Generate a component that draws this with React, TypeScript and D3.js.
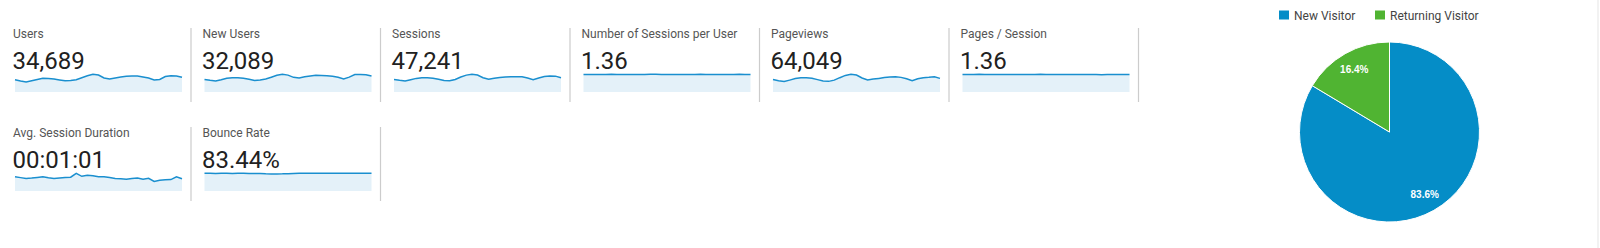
import React, { useEffect } from "react";
import * as d3 from "d3";

const metricLabels = [
  "Users",
  "New Users",
  "Sessions",
  "Number of Sessions per User",
  "Pageviews",
  "Pages / Session",
  "Avg. Session Duration",
  "Bounce Rate",
];
const metricValues = ["34,689", "32,089", "47,241", "1.36", "64,049", "1.36", "00:01:01", "83.44%"];

const usersDaily = [996, 891, 810, 907, 1013, 1118, 1094, 1045, 972, 907, 932, 996, 1150, 1312, 1434, 1377, 1134, 1053, 1142, 1215, 1272, 1288, 1296, 1215, 1134, 972, 1013, 1256, 1320, 1296, 1191];
const newUsersDaily = [886, 821, 778, 864, 965, 1008, 1008, 972, 893, 814, 850, 914, 1044, 1181, 1246, 1188, 1030, 986, 1066, 1130, 1174, 1159, 1145, 1116, 1037, 922, 1044, 1224, 1224, 1217, 1130];
const sessionsDaily = [1363, 1263, 1197, 1330, 1474, 1551, 1551, 1496, 1374, 1241, 1219, 1363, 1629, 1828, 1917, 1839, 1551, 1385, 1485, 1573, 1629, 1651, 1662, 1640, 1518, 1330, 1507, 1684, 1740, 1717, 1551];
const sessionsPerUserDaily = [1.36, 1.36, 1.35, 1.36, 1.36, 1.37, 1.36, 1.36, 1.35, 1.36, 1.36, 1.36, 1.37, 1.37, 1.36, 1.36, 1.36, 1.35, 1.36, 1.36, 1.36, 1.37, 1.36, 1.36, 1.35, 1.36, 1.36, 1.36, 1.37, 1.36, 1.36];
const pageviewsDaily = [1914, 1712, 1587, 1805, 2038, 2178, 2178, 2101, 1883, 1681, 1618, 1805, 2178, 2521, 2692, 2583, 2132, 1836, 1961, 2069, 2194, 2272, 2334, 2225, 2023, 1712, 2023, 2178, 2225, 2303, 2069];
const pagesPerSessionDaily = [1.36, 1.37, 1.37, 1.38, 1.37, 1.37, 1.36, 1.36, 1.37, 1.37, 1.36, 1.36, 1.37, 1.37, 1.38, 1.37, 1.36, 1.37, 1.37, 1.37, 1.36, 1.36, 1.37, 1.37, 1.36, 1.35, 1.36, 1.36, 1.36, 1.36, 1.36];
const avgDurationDaily = [66, 62, 58, 60, 63, 66, 61, 58, 60, 62, 64, 82, 68, 73, 71, 66, 66, 63, 58, 57, 55, 58, 60, 54, 59, 44, 50, 52, 53, 66, 57];
const bounceRateDaily = [83.8, 83.8, 83.7, 83.8, 83.8, 83.7, 83.8, 83.8, 83.7, 83.6, 83.4, 82.0, 81.2, 81.0, 81.4, 82.5, 83.4, 83.8, 83.9, 83.9, 84.0, 84.0, 83.9, 84.0, 84.0, 84.1, 84.0, 84.0, 84.1, 84.1, 84.1];

const sparkSeries = [
  usersDaily,
  newUsersDaily,
  sessionsDaily,
  sessionsPerUserDaily,
  pageviewsDaily,
  pagesPerSessionDaily,
  avgDurationDaily,
  bounceRateDaily,
];

const pieCategories = ["New Visitor", "Returning Visitor"];
const pieShares = [83.6, 16.4];
const pieColors = ["#058DC7", "#50B432"];

const W = 1600;
const H = 248;
const TILE_W = 189.5;
const ROW_OFF = 99;
const FONT = "Roboto, 'Noto Sans', Arial, sans-serif";

function Tile({ k }: { k: number }) {
  const row = k < 6 ? 0 : 1;
  const col = k < 6 ? k : k - 6;
  const x0 = 1.5 + TILE_W * col;
  const oy = row * ROW_OFF;
  const data = sparkSeries[k];
  const x = d3.scaleLinear().domain([0, data.length - 1]).range([x0 + 13.5, x0 + 180.5]);
  const y = d3.scaleLinear().domain([0, d3.max(data) as number]).range([92 + oy, 74.3 + oy]);
  const line = d3.line<number>().x((_, i) => x(i)).y((d) => y(d));
  const area = d3
    .area<number>()
    .x((_, i) => x(i))
    .y0(92 + oy)
    .y1((d) => y(d));
  return (
    <g>
      <text x={x0 + 11.5} y={38 + oy} fontFamily={FONT} fontSize={12} fill="#555">
        {metricLabels[k]}
      </text>
      <text x={x0 + 11} y={69 + oy} fontFamily={FONT} fontSize={24} fill="#212121">
        {metricValues[k]}
      </text>
      <path d={area(data) || ""} fill="#e4f1f9" />
      <path d={line(data) || ""} fill="none" stroke="#1a8fcf" strokeWidth={1.5} />
      <line x1={x0 + TILE_W} x2={x0 + TILE_W} y1={28 + oy} y2={102 + oy} stroke="#cccccc" strokeWidth={1.2} />
    </g>
  );
}

export default function App() {
  useEffect(() => {
    document.body.style.margin = "0";
  }, []);

  const cx = 1389.5;
  const cy = 132;
  const r = 90;
  const pie = d3.pie<number>().sort(null).value((d) => d)(pieShares);
  const arc = d3.arc<d3.PieArcDatum<number>>().innerRadius(0).outerRadius(r);
  const labelArc = d3.arc<d3.PieArcDatum<number>>().innerRadius(71.5).outerRadius(71.5);

  const legendX = [1279, 1375];

  return (
    <svg
      width={W}
      height={H}
      viewBox={`0 0 ${W} ${H}`}
      style={{ display: "block", position: "absolute", left: 0, top: 0, background: "#fff" }}
    >
      <rect x={0} y={0} width={W} height={H} fill="#fff" />
      {metricLabels.map((_, k) => (
        <Tile key={k} k={k} />
      ))}

      {pieCategories.map((c, i) => (
        <g key={c}>
          <rect x={legendX[i]} y={10.5} width={10} height={9} fill={pieColors[i]} />
          <text x={legendX[i] + 15} y={19.5} fontFamily={FONT} fontSize={12} fill="#444">
            {c}
          </text>
        </g>
      ))}

      <g transform={`translate(${cx},${cy})`}>
        {pie.map((p, i) => (
          <path key={i} d={arc(p) || ""} fill={pieColors[i]} stroke="#fff" strokeWidth={1} />
        ))}
        {pie.map((p, i) => {
          const [lx, ly] = labelArc.centroid(p);
          return (
            <text
              key={"l" + i}
              x={lx}
              y={ly}
              dy="0.35em"
              textAnchor="middle"
              fontFamily="'Liberation Sans', Arial, sans-serif"
              fontWeight={700}
              fontSize={10}
              fill="#fff"
            >
              {pieShares[i].toFixed(1)}%
            </text>
          );
        })}
      </g>

      <line x1={1598} x2={1598} y1={0} y2={H} stroke="#f2f2f2" strokeWidth={2} />
    </svg>
  );
}
